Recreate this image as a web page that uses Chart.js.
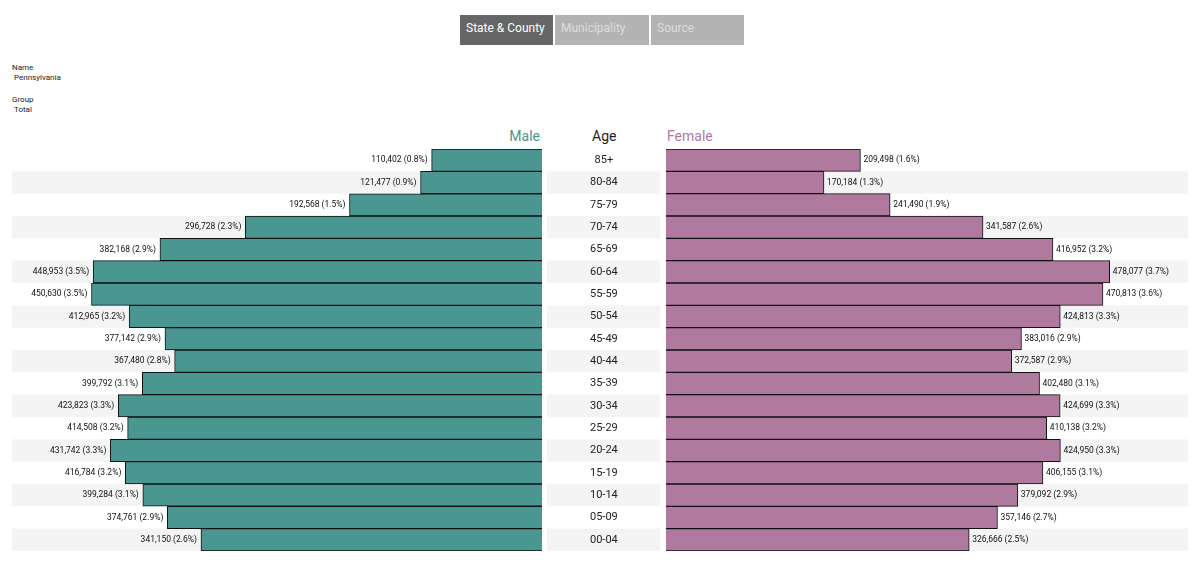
<!DOCTYPE html>
<html>
<head>
<meta charset="utf-8">
<script src="https://cdn.jsdelivr.net/npm/chart.js@4"></script>
<style>
  body { margin: 0; width: 1200px; height: 563px; background: #fff; font-family: Roboto, sans-serif; position: relative; overflow: hidden; }
  .tabs { position: absolute; left: 460px; top: 15px; display: flex; }
  .tab { height: 30px; line-height: 26px; font-size: 12px; padding-left: 6px; box-sizing: border-box; margin-right: 2px; }
  .info { position: absolute; left: 12px; font-size: 8px; line-height: 9.5px; color: #222; }
  .info span { display: block; padding-left: 2px; }
  .head { position: absolute; top: 128px; font-size: 14px; }
  #maleBox { position: absolute; left: 12px; top: 149px; width: 654px; height: 402px; }
  #femaleBox { position: absolute; left: 666px; top: 149px; width: 522px; height: 402px; }
</style>
</head>
<body>
<div class="tabs">
  <div class="tab" style="width:93px;background:#666;color:#fff">State &amp; County</div>
  <div class="tab" style="width:94px;background:#b3b3b3;color:#dcdcdc">Municipality</div>
  <div class="tab" style="width:93px;background:#b3b3b3;color:#dcdcdc">Source</div>
</div>
<div class="info" style="top:63px">Name<span>Pennsylvania</span></div>
<div class="info" style="top:95px">Group<span>Total</span></div>
<div class="head" style="right:660px;color:#4a9690">Male</div>
<div class="head" style="left:592px;color:#222">Age</div>
<div class="head" style="left:667px;color:#b07a9f">Female</div>
<div id="maleBox"><canvas id="maleChart"></canvas></div>
<div id="femaleBox"><canvas id="femaleChart"></canvas></div>
<script>
  const ageGroups = ['85+', '80-84', '75-79', '70-74', '65-69', '60-64', '55-59', '50-54', '45-49',
    '40-44', '35-39', '30-34', '25-29', '20-24', '15-19', '10-14', '05-09', '00-04'];
  const maleValues = [110402, 121477, 192568, 296728, 382168, 448953, 450630, 412965, 377142,
    367480, 399792, 423823, 414508, 431742, 416784, 399284, 374761, 341150];
  const malePercents = [0.8, 0.9, 1.5, 2.3, 2.9, 3.5, 3.5, 3.2, 2.9, 2.8, 3.1, 3.3, 3.2, 3.3, 3.2, 3.1, 2.9, 2.6];
  const femaleValues = [209498, 170184, 241490, 341587, 416952, 478077, 470813, 424813, 383016,
    372587, 402480, 424699, 410138, 424950, 406155, 379092, 357146, 326666];
  const femalePercents = [1.6, 1.3, 1.9, 2.6, 3.2, 3.7, 3.6, 3.3, 2.9, 2.9, 3.1, 3.3, 3.2, 3.3, 3.1, 2.9, 2.7, 2.5];

  const maleColor = '#4a9690';
  const femaleColor = '#b07a9f';

  // alternating row background, segments in canvas x coords
  function stripePlugin(segments) {
    return {
      id: 'stripes',
      beforeDraw(chart) {
        const ctx = chart.ctx;
        const y = chart.scales.y;
        const h = chart.chartArea.bottom - chart.chartArea.top;
        const rowH = h / ageGroups.length;
        ctx.save();
        ctx.fillStyle = '#f4f4f4';
        ageGroups.forEach((g, i) => {
          if (i % 2 === 1) {
            const cy = y.getPixelForValue(i);
            segments.forEach(s => ctx.fillRect(s[0], cy - rowH / 2, s[1] - s[0], rowH));
          }
        });
        ctx.restore();
      }
    };
  }

  function labelPlugin(values, percents, side) {
    return {
      id: 'valueLabels',
      afterDatasetsDraw(chart) {
        const ctx = chart.ctx;
        const meta = chart.getDatasetMeta(0);
        ctx.save();
        ctx.font = '8.5px Roboto';
        ctx.fillStyle = '#111';
        ctx.textBaseline = 'middle';
        meta.data.forEach((bar, i) => {
          const text = values[i].toLocaleString('en-US') + ' (' + percents[i].toFixed(1) + '%)';
          if (side === 'left') {
            ctx.textAlign = 'right';
            ctx.fillText(text, bar.x - 4, bar.y);
          } else {
            ctx.textAlign = 'left';
            ctx.fillText(text, bar.x + 3, bar.y);
          }
        });
        ctx.restore();
      }
    };
  }

  new Chart(document.getElementById('maleChart'), {
    type: 'bar',
    data: {
      labels: ageGroups,
      datasets: [{
        data: maleValues,
        backgroundColor: maleColor,
        borderColor: '#111',
        borderWidth: 1,
        barPercentage: 1,
        categoryPercentage: 1
      }]
    },
    options: {
      indexAxis: 'y',
      responsive: true,
      maintainAspectRatio: false,
      animation: false,
      layout: { padding: 0 },
      plugins: { legend: { display: false }, tooltip: { enabled: false } },
      scales: {
        x: {
          display: false,
          reverse: true,
          min: 0,
          max: Math.max(...maleValues) / 0.85
        },
        y: {
          position: 'right',
          // tickLength only pushes the centred age labels into the middle column
          grid: { display: false, drawTicks: true, tickLength: 48 },
          border: { display: false },
          afterFit: scale => { scale.width = 124; },
          ticks: {
            crossAlign: 'center',
            padding: 0,
            color: '#222',
            font: { family: 'Roboto', size: 11, lineHeight: 0.01 }
          }
        }
      }
    },
    plugins: [stripePlugin([[0, 530], [535, 648]]), labelPlugin(maleValues, malePercents, 'left')]
  });

  new Chart(document.getElementById('femaleChart'), {
    type: 'bar',
    data: {
      labels: ageGroups,
      datasets: [{
        data: femaleValues,
        backgroundColor: femaleColor,
        borderColor: '#111',
        borderWidth: 1,
        barPercentage: 1,
        categoryPercentage: 1
      }]
    },
    options: {
      indexAxis: 'y',
      responsive: true,
      maintainAspectRatio: false,
      animation: false,
      layout: { padding: 0 },
      plugins: { legend: { display: false }, tooltip: { enabled: false } },
      scales: {
        x: {
          display: false,
          min: 0,
          max: Math.max(...femaleValues) / 0.85
        },
        y: { display: false }
      }
    },
    plugins: [stripePlugin([[0, 522]]), labelPlugin(femaleValues, femalePercents, 'right')]
  });
</script>
</body>
</html>
